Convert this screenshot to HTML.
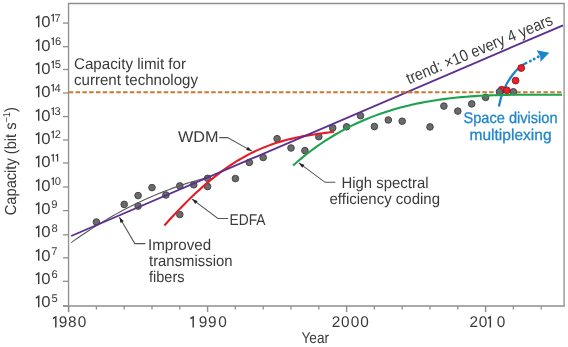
<!DOCTYPE html>
<html><head><meta charset="utf-8"><style>
html,body{margin:0;padding:0;background:#fff;width:568px;height:347px;overflow:hidden;}
svg{display:block;will-change:transform;font-family:"Liberation Sans", sans-serif;}
</style></head><body>
<svg width="568" height="347" viewBox="0 0 568 347" font-family="Liberation Sans, sans-serif" text-rendering="geometricPrecision">
<path d="M68.55 312.2 V3.5 H564.1 V306.2" fill="none" stroke="#8e8e8e" stroke-width="1.3"/>
<path d="M63 306.05 H564.7" fill="none" stroke="#8e8e8e" stroke-width="1.4"/>
<path d="M63 23.1 H68.5" stroke="#8e8e8e" stroke-width="1.3"/>
<path d="M63 46.7 H68.5" stroke="#8e8e8e" stroke-width="1.3"/>
<path d="M63 69.5 H68.5" stroke="#8e8e8e" stroke-width="1.3"/>
<path d="M63 93.0 H68.5" stroke="#8e8e8e" stroke-width="1.3"/>
<path d="M63 116.6 H68.5" stroke="#8e8e8e" stroke-width="1.3"/>
<path d="M63 140.0 H68.5" stroke="#8e8e8e" stroke-width="1.3"/>
<path d="M63 163.0 H68.5" stroke="#8e8e8e" stroke-width="1.3"/>
<path d="M63 187.0 H68.5" stroke="#8e8e8e" stroke-width="1.3"/>
<path d="M63 210.6 H68.5" stroke="#8e8e8e" stroke-width="1.3"/>
<path d="M63 234.8 H68.5" stroke="#8e8e8e" stroke-width="1.3"/>
<path d="M63 257.8 H68.5" stroke="#8e8e8e" stroke-width="1.3"/>
<path d="M63 281.3 H68.5" stroke="#8e8e8e" stroke-width="1.3"/>
<path d="M63 306.0 H68.5" stroke="#8e8e8e" stroke-width="1.3"/>
<path d="M68.6 306 V312" stroke="#8e8e8e" stroke-width="1.4"/>
<path d="M96.4 306 V309.5" stroke="#8e8e8e" stroke-width="1.3"/>
<path d="M124.2 306 V309.5" stroke="#8e8e8e" stroke-width="1.3"/>
<path d="M152.0 306 V309.5" stroke="#8e8e8e" stroke-width="1.3"/>
<path d="M179.8 306 V309.5" stroke="#8e8e8e" stroke-width="1.3"/>
<path d="M207.6 306 V312" stroke="#8e8e8e" stroke-width="1.4"/>
<path d="M235.4 306 V309.5" stroke="#8e8e8e" stroke-width="1.3"/>
<path d="M263.2 306 V309.5" stroke="#8e8e8e" stroke-width="1.3"/>
<path d="M291.0 306 V309.5" stroke="#8e8e8e" stroke-width="1.3"/>
<path d="M318.8 306 V309.5" stroke="#8e8e8e" stroke-width="1.3"/>
<path d="M346.6 306 V312" stroke="#8e8e8e" stroke-width="1.4"/>
<path d="M374.4 306 V309.5" stroke="#8e8e8e" stroke-width="1.3"/>
<path d="M402.2 306 V309.5" stroke="#8e8e8e" stroke-width="1.3"/>
<path d="M430.0 306 V309.5" stroke="#8e8e8e" stroke-width="1.3"/>
<path d="M457.8 306 V309.5" stroke="#8e8e8e" stroke-width="1.3"/>
<path d="M485.6 306 V312" stroke="#8e8e8e" stroke-width="1.4"/>
<path d="M513.4 306 V309.5" stroke="#8e8e8e" stroke-width="1.3"/>
<path d="M541.2 306 V309.5" stroke="#8e8e8e" stroke-width="1.3"/>
<path d="M35.80 18.20 L38.70 16.40 V27.30" fill="none" stroke="#3a3a3a" stroke-width="1.45" stroke-linejoin="miter"/>
<text transform="translate(45.30 27.3) scale(1.07 1)" x="-3.87" y="0" font-size="15.6" fill="#3a3a3a">0</text>
<path d="M51.40 15.80 L53.30 14.60 V21.60" fill="none" stroke="#3a3a3a" stroke-width="1.15" stroke-linejoin="miter"/>
<text x="54.60" y="21.6" font-size="11.2" fill="#3a3a3a">7</text>
<path d="M35.80 41.53 L38.70 39.73 V50.63" fill="none" stroke="#3a3a3a" stroke-width="1.45" stroke-linejoin="miter"/>
<text transform="translate(45.30 50.63) scale(1.07 1)" x="-3.87" y="0" font-size="15.6" fill="#3a3a3a">0</text>
<path d="M51.40 39.13 L53.30 37.93 V44.93" fill="none" stroke="#3a3a3a" stroke-width="1.15" stroke-linejoin="miter"/>
<text x="54.90" y="44.93" font-size="11.2" fill="#3a3a3a">6</text>
<path d="M35.80 64.87 L38.70 63.07 V73.97" fill="none" stroke="#3a3a3a" stroke-width="1.45" stroke-linejoin="miter"/>
<text transform="translate(45.30 73.97) scale(1.07 1)" x="-3.87" y="0" font-size="15.6" fill="#3a3a3a">0</text>
<path d="M51.40 62.47 L53.30 61.27 V68.27" fill="none" stroke="#3a3a3a" stroke-width="1.15" stroke-linejoin="miter"/>
<text x="54.81" y="68.27" font-size="11.2" fill="#3a3a3a">5</text>
<path d="M35.80 88.20 L38.70 86.40 V97.30" fill="none" stroke="#3a3a3a" stroke-width="1.45" stroke-linejoin="miter"/>
<text transform="translate(45.30 97.3) scale(1.07 1)" x="-3.87" y="0" font-size="15.6" fill="#3a3a3a">0</text>
<path d="M51.40 85.80 L53.30 84.60 V91.60" fill="none" stroke="#3a3a3a" stroke-width="1.15" stroke-linejoin="miter"/>
<text x="54.56" y="91.6" font-size="11.2" fill="#3a3a3a">4</text>
<path d="M35.80 111.53 L38.70 109.73 V120.63" fill="none" stroke="#3a3a3a" stroke-width="1.45" stroke-linejoin="miter"/>
<text transform="translate(45.30 120.63) scale(1.07 1)" x="-3.87" y="0" font-size="15.6" fill="#3a3a3a">0</text>
<path d="M51.40 109.13 L53.30 107.93 V114.93" fill="none" stroke="#3a3a3a" stroke-width="1.15" stroke-linejoin="miter"/>
<text x="54.43" y="114.93" font-size="11.2" fill="#3a3a3a">3</text>
<path d="M35.80 134.87 L38.70 133.07 V143.97" fill="none" stroke="#3a3a3a" stroke-width="1.45" stroke-linejoin="miter"/>
<text transform="translate(45.30 143.97) scale(1.07 1)" x="-3.87" y="0" font-size="15.6" fill="#3a3a3a">0</text>
<path d="M51.40 132.47 L53.30 131.27 V138.27" fill="none" stroke="#3a3a3a" stroke-width="1.15" stroke-linejoin="miter"/>
<text x="54.76" y="138.27" font-size="11.2" fill="#3a3a3a">2</text>
<path d="M35.80 158.20 L38.70 156.40 V167.30" fill="none" stroke="#3a3a3a" stroke-width="1.45" stroke-linejoin="miter"/>
<text transform="translate(45.30 167.3) scale(1.07 1)" x="-3.87" y="0" font-size="15.6" fill="#3a3a3a">0</text>
<path d="M51.40 155.80 L53.30 154.60 V161.60" fill="none" stroke="#3a3a3a" stroke-width="1.15" stroke-linejoin="miter"/>
<path d="M55.70 155.80 L57.60 154.60 V161.60" fill="none" stroke="#3a3a3a" stroke-width="1.15" stroke-linejoin="miter"/>
<path d="M35.80 181.53 L38.70 179.73 V190.63" fill="none" stroke="#3a3a3a" stroke-width="1.45" stroke-linejoin="miter"/>
<text transform="translate(45.30 190.63) scale(1.07 1)" x="-3.87" y="0" font-size="15.6" fill="#3a3a3a">0</text>
<path d="M51.40 179.13 L53.30 177.93 V184.93" fill="none" stroke="#3a3a3a" stroke-width="1.15" stroke-linejoin="miter"/>
<text x="54.82" y="184.93" font-size="11.2" fill="#3a3a3a">0</text>
<path d="M35.80 204.86 L38.70 203.06 V213.96" fill="none" stroke="#3a3a3a" stroke-width="1.45" stroke-linejoin="miter"/>
<text transform="translate(45.30 213.96) scale(1.07 1)" x="-3.87" y="0" font-size="15.6" fill="#3a3a3a">0</text>
<text x="51.27" y="208.26" font-size="11.2" fill="#3a3a3a">9</text>
<path d="M35.80 228.20 L38.70 226.40 V237.30" fill="none" stroke="#3a3a3a" stroke-width="1.45" stroke-linejoin="miter"/>
<text transform="translate(45.30 237.3) scale(1.07 1)" x="-3.87" y="0" font-size="15.6" fill="#3a3a3a">0</text>
<text x="51.40" y="231.6" font-size="11.2" fill="#3a3a3a">8</text>
<path d="M35.80 251.53 L38.70 249.73 V260.63" fill="none" stroke="#3a3a3a" stroke-width="1.45" stroke-linejoin="miter"/>
<text transform="translate(45.30 260.63) scale(1.07 1)" x="-3.87" y="0" font-size="15.6" fill="#3a3a3a">0</text>
<text x="51.20" y="254.93" font-size="11.2" fill="#3a3a3a">7</text>
<path d="M35.80 274.86 L38.70 273.06 V283.96" fill="none" stroke="#3a3a3a" stroke-width="1.45" stroke-linejoin="miter"/>
<text transform="translate(45.30 283.96) scale(1.07 1)" x="-3.87" y="0" font-size="15.6" fill="#3a3a3a">0</text>
<text x="51.50" y="278.26" font-size="11.2" fill="#3a3a3a">6</text>
<path d="M35.80 298.20 L38.70 296.40 V307.30" fill="none" stroke="#3a3a3a" stroke-width="1.45" stroke-linejoin="miter"/>
<text transform="translate(45.30 307.3) scale(1.07 1)" x="-3.87" y="0" font-size="15.6" fill="#3a3a3a">0</text>
<text x="51.41" y="301.6" font-size="11.2" fill="#3a3a3a">5</text>
<path d="M53.00 318.50 L55.80 316.90 V327.40" fill="none" stroke="#3a3a3a" stroke-width="1.45" stroke-linejoin="miter"/>
<text x="58.82" y="327.4" font-size="15.4" fill="#3a3a3a">9</text>
<text x="68.10" y="327.4" font-size="15.4" fill="#3a3a3a">8</text>
<text x="77.83" y="327.4" font-size="15.4" fill="#3a3a3a">0</text>
<path d="M190.40 318.50 L193.20 316.90 V327.40" fill="none" stroke="#3a3a3a" stroke-width="1.45" stroke-linejoin="miter"/>
<text x="198.82" y="327.4" font-size="15.4" fill="#3a3a3a">9</text>
<text x="208.12" y="327.4" font-size="15.4" fill="#3a3a3a">9</text>
<text x="218.23" y="327.4" font-size="15.4" fill="#3a3a3a">0</text>
<text x="331.64" y="327.4" font-size="15.4" fill="#3a3a3a">2</text>
<text x="341.03" y="327.4" font-size="15.4" fill="#3a3a3a">0</text>
<text x="350.73" y="327.4" font-size="15.4" fill="#3a3a3a">0</text>
<text x="360.23" y="327.4" font-size="15.4" fill="#3a3a3a">0</text>
<text x="469.49" y="327.4" font-size="15.4" fill="#3a3a3a">2</text>
<text x="478.63" y="327.4" font-size="15.4" fill="#3a3a3a">0</text>
<path d="M487.95 318.40 L490.35 316.90 V327.40" fill="none" stroke="#3a3a3a" stroke-width="1.45" stroke-linejoin="miter"/>
<text x="496.83" y="327.4" font-size="15.4" fill="#3a3a3a">0</text>
<text x="301.5" y="343.1" font-size="15.5" fill="#3a3a3a" textLength="27.5" lengthAdjust="spacingAndGlyphs">Year</text>
<g transform="translate(15.9 215.2) rotate(-90)"><text x="0" y="0" font-size="16" fill="#3a3a3a" textLength="108" lengthAdjust="spacingAndGlyphs">Capacity (bit s<tspan dy="-5.5" font-size="10">−1</tspan><tspan dy="5.5">)</tspan></text></g>
<path d="M68.8 92.2 H562.4" stroke="#c97a2e" stroke-width="2" stroke-dasharray="4.5 2.28"/>
<path d="M498.90 106.50 C499.38 104.62 500.53 98.92 501.80 95.20 C503.07 91.48 504.68 87.60 506.50 84.20 C508.32 80.80 510.50 77.67 512.70 74.80 C514.90 71.93 517.28 69.07 519.70 67.00 C522.12 64.93 525.95 63.17 527.20 62.40" fill="none" stroke="#1b84cb" stroke-width="2.3"/>
<circle cx="501.7" cy="89.7" r="3.4" fill="#e8202a" stroke="#9c1018" stroke-width="0.9"/>
<circle cx="96.40" cy="222.0" r="3.3" fill="#6b6b6b" stroke="#454545" stroke-width="1"/>
<circle cx="124.20" cy="204.4" r="3.3" fill="#6b6b6b" stroke="#454545" stroke-width="1"/>
<circle cx="138.10" cy="195.6" r="3.3" fill="#6b6b6b" stroke="#454545" stroke-width="1"/>
<circle cx="138.10" cy="206.1" r="3.3" fill="#6b6b6b" stroke="#454545" stroke-width="1"/>
<circle cx="152.00" cy="187.6" r="3.3" fill="#6b6b6b" stroke="#454545" stroke-width="1"/>
<circle cx="165.90" cy="195.0" r="3.3" fill="#6b6b6b" stroke="#454545" stroke-width="1"/>
<circle cx="179.80" cy="214.5" r="3.3" fill="#6b6b6b" stroke="#454545" stroke-width="1"/>
<circle cx="179.80" cy="185.9" r="3.3" fill="#6b6b6b" stroke="#454545" stroke-width="1"/>
<circle cx="193.70" cy="184.8" r="3.3" fill="#6b6b6b" stroke="#454545" stroke-width="1"/>
<circle cx="207.60" cy="178.3" r="3.3" fill="#6b6b6b" stroke="#454545" stroke-width="1"/>
<circle cx="207.60" cy="186.6" r="3.3" fill="#6b6b6b" stroke="#454545" stroke-width="1"/>
<circle cx="235.40" cy="178.6" r="3.3" fill="#6b6b6b" stroke="#454545" stroke-width="1"/>
<circle cx="249.30" cy="162.4" r="3.3" fill="#6b6b6b" stroke="#454545" stroke-width="1"/>
<circle cx="263.20" cy="157.5" r="3.3" fill="#6b6b6b" stroke="#454545" stroke-width="1"/>
<circle cx="277.10" cy="138.7" r="3.3" fill="#6b6b6b" stroke="#454545" stroke-width="1"/>
<circle cx="291.00" cy="148.0" r="3.3" fill="#6b6b6b" stroke="#454545" stroke-width="1"/>
<circle cx="304.90" cy="150.6" r="3.3" fill="#6b6b6b" stroke="#454545" stroke-width="1"/>
<circle cx="318.80" cy="136.7" r="3.3" fill="#6b6b6b" stroke="#454545" stroke-width="1"/>
<circle cx="332.70" cy="127.9" r="3.3" fill="#6b6b6b" stroke="#454545" stroke-width="1"/>
<circle cx="346.60" cy="126.8" r="3.3" fill="#6b6b6b" stroke="#454545" stroke-width="1"/>
<circle cx="360.50" cy="115.7" r="3.3" fill="#6b6b6b" stroke="#454545" stroke-width="1"/>
<circle cx="374.40" cy="126.5" r="3.3" fill="#6b6b6b" stroke="#454545" stroke-width="1"/>
<circle cx="388.30" cy="120.0" r="3.3" fill="#6b6b6b" stroke="#454545" stroke-width="1"/>
<circle cx="402.20" cy="121.2" r="3.3" fill="#6b6b6b" stroke="#454545" stroke-width="1"/>
<circle cx="430.00" cy="126.9" r="3.3" fill="#6b6b6b" stroke="#454545" stroke-width="1"/>
<circle cx="443.90" cy="106.1" r="3.3" fill="#6b6b6b" stroke="#454545" stroke-width="1"/>
<circle cx="457.80" cy="111.1" r="3.3" fill="#6b6b6b" stroke="#454545" stroke-width="1"/>
<circle cx="471.70" cy="103.9" r="3.3" fill="#6b6b6b" stroke="#454545" stroke-width="1"/>
<circle cx="485.60" cy="97.4" r="3.3" fill="#6b6b6b" stroke="#454545" stroke-width="1"/>
<circle cx="499.50" cy="91.8" r="3.3" fill="#6b6b6b" stroke="#454545" stroke-width="1"/>
<circle cx="513.40" cy="91.8" r="3.3" fill="#6b6b6b" stroke="#454545" stroke-width="1"/>
<circle cx="506.9" cy="90.3" r="3.4" fill="#e8202a" stroke="#9c1018" stroke-width="0.9"/>
<circle cx="515.6" cy="80.6" r="3.4" fill="#e8202a" stroke="#9c1018" stroke-width="0.9"/>
<circle cx="521.2" cy="68.0" r="3.4" fill="#e8202a" stroke="#9c1018" stroke-width="0.9"/>
<path d="M71.20 242.60 L74.68 240.12 L78.16 237.69 L81.65 235.30 L85.13 232.96 L88.61 230.67 L92.09 228.41 L95.57 226.21 L99.06 224.04 L102.54 221.92 L106.02 219.85 L109.50 217.81 L112.98 215.82 L116.47 213.88 L119.95 211.97 L123.43 210.11 L126.91 208.29 L130.39 206.52 L133.88 204.78 L137.36 203.09 L140.84 201.44 L144.32 199.83 L147.81 198.26 L151.29 196.73 L154.77 195.24 L158.25 193.79 L161.73 192.38 L165.22 191.01 L168.70 189.68 L172.18 188.39 L175.66 187.14 L179.14 185.93 L182.63 184.76 L186.11 183.62 L189.59 182.52 L193.07 181.46 L196.55 180.44 L200.04 179.46 L203.52 178.51 L207.00 177.60" fill="none" stroke="#5a5a5a" stroke-width="1.1"/>
<path d="M164.40 225.43 L167.28 222.23 L170.15 219.07 L173.03 215.96 L175.91 212.90 L178.78 209.88 L181.66 206.91 L184.53 203.99 L187.41 201.12 L190.29 198.31 L193.16 195.54 L196.04 192.84 L198.92 190.19 L201.79 187.60 L204.67 185.07 L207.54 182.59 L210.42 180.19 L213.30 177.84 L216.17 175.56 L219.05 173.34 L221.93 171.19 L224.80 169.11 L227.68 167.10 L230.55 165.16 L233.43 163.29 L236.31 161.48 L239.18 159.74 L242.06 158.07 L244.94 156.46 L247.81 154.91 L250.69 153.43 L253.56 152.02 L256.44 150.66 L259.32 149.37 L262.19 148.14 L265.07 146.97 L267.95 145.86 L270.82 144.81 L273.70 143.81 L276.57 142.87 L279.45 141.97 L282.33 141.13 L285.20 140.33 L288.08 139.58 L290.96 138.87 L293.83 138.19 L296.71 137.56 L299.58 136.96 L302.46 136.40 L305.34 135.87 L308.21 135.37 L311.09 134.89 L313.97 134.44 L316.84 134.01 L319.72 133.61 L322.59 133.22 L325.47 132.85 L328.35 132.49 L331.22 132.15 L334.10 131.82" fill="none" stroke="#e41d25" stroke-width="2.1"/>
<path d="M293.10 165.44 L297.66 161.48 L302.22 157.68 L306.77 154.03 L311.33 150.54 L315.89 147.20 L320.45 144.00 L325.00 140.95 L329.56 138.03 L334.12 135.25 L338.68 132.60 L343.23 130.08 L347.79 127.67 L352.35 125.39 L356.91 123.23 L361.46 121.17 L366.02 119.22 L370.58 117.38 L375.14 115.63 L379.69 113.98 L384.25 112.43 L388.81 110.96 L393.37 109.57 L397.93 108.27 L402.48 107.05 L407.04 105.90 L411.60 104.82 L416.16 103.81 L420.71 102.87 L425.27 102.00 L429.83 101.19 L434.39 100.45 L438.94 99.76 L443.50 99.13 L448.06 98.55 L452.62 98.02 L457.17 97.54 L461.73 97.11 L466.29 96.73 L470.85 96.39 L475.41 96.08 L479.96 95.82 L484.52 95.59 L489.08 95.39 L493.64 95.22 L498.19 95.08 L502.75 94.97 L507.31 94.88 L511.87 94.82 L516.42 94.77 L520.98 94.73 L525.54 94.72 L530.10 94.71 L534.65 94.71 L539.21 94.72 L543.77 94.74 L548.33 94.75 L552.88 94.77 L557.44 94.78 L562.00 94.79" fill="none" stroke="#1ca24e" stroke-width="2.1"/>
<path d="M71.2 236.0 L563 25.3" stroke="#5c2e8f" stroke-width="1.85"/>
<clipPath id="cp"><rect x="396" y="85" width="22" height="15"/></clipPath>
<path clip-path="url(#cp)" d="M68.8 92.2 H562.4" stroke="#c97a2e" stroke-width="2" stroke-dasharray="4.5 2.28"/>
<circle cx="530.3" cy="61.1" r="1.5" fill="#1b84cb"/>
<circle cx="534.1" cy="58.9" r="1.5" fill="#1b84cb"/>
<circle cx="538.2" cy="56.7" r="1.5" fill="#1b84cb"/>
<path d="M549.3 52.8 L536.6 50.3 L540.2 56.2 L540.5 61.8 Z" fill="#1b84cb"/>
<path d="M145.3 243.6 H134.8 L119.4 217.2" fill="none" stroke="#555555" stroke-width="1.05"/>
<path d="M119.40 217.20 L123.81 220.99 L120.53 222.91 Z" fill="#222"/>
<path d="M228.2 218.5 H217.9 L192.1 199.1" fill="none" stroke="#555555" stroke-width="1.05"/>
<path d="M192.10 199.10 L197.64 200.89 L195.35 203.92 Z" fill="#222"/>
<path d="M219.2 137.6 H227.6 L251.8 151.1" fill="none" stroke="#555555" stroke-width="1.05"/>
<path d="M251.80 151.10 L246.07 150.08 L247.92 146.76 Z" fill="#222"/>
<path d="M335.4 182.3 H325.1 L298.9 162.9" fill="none" stroke="#555555" stroke-width="1.05"/>
<path d="M298.90 162.90 L304.45 164.65 L302.19 167.70 Z" fill="#222"/>
<text x="74.0" y="69.2" font-size="15.5" fill="#3a3a3a" textLength="112.01" lengthAdjust="spacingAndGlyphs">Capacity limit for</text>
<text x="74.0" y="85.3" font-size="15.5" fill="#3a3a3a" textLength="124.01" lengthAdjust="spacingAndGlyphs">current technology</text>
<text x="178.0" y="142.3" font-size="15.5" fill="#3a3a3a" textLength="40.55" lengthAdjust="spacingAndGlyphs">WDM</text>
<text x="229.5" y="224.7" font-size="15.5" fill="#3a3a3a" textLength="36.01" lengthAdjust="spacingAndGlyphs">EDFA</text>
<text x="148.0" y="249.7" font-size="15.5" fill="#3a3a3a" textLength="63.07" lengthAdjust="spacingAndGlyphs">Improved</text>
<text x="149.0" y="265.9" font-size="15.5" fill="#3a3a3a" textLength="83.52" lengthAdjust="spacingAndGlyphs">transmission</text>
<text x="149.0" y="282.1" font-size="15.5" fill="#3a3a3a" textLength="35.51" lengthAdjust="spacingAndGlyphs">fibers</text>
<text x="341.5" y="187.6" font-size="15.5" fill="#3a3a3a" textLength="87.03" lengthAdjust="spacingAndGlyphs">High spectral</text>
<text x="329.5" y="203.8" font-size="15.5" fill="#3a3a3a" textLength="110.51" lengthAdjust="spacingAndGlyphs">efficiency coding</text>
<text x="463.5" y="123.4" font-size="15.5" fill="#1f86c9" stroke="#1f86c9" stroke-width="0.3" textLength="94.02" lengthAdjust="spacingAndGlyphs">Space division</text>
<text x="469.5" y="139.6" font-size="15.5" fill="#1f86c9" stroke="#1f86c9" stroke-width="0.3" textLength="82.04" lengthAdjust="spacingAndGlyphs">multiplexing</text>
<g transform="translate(408.9 84.5) rotate(-22.6)"><text x="0" y="0" font-size="16.5" fill="#3a3a3a" textLength="157.2" lengthAdjust="spacingAndGlyphs">trend: ×10 every 4 years</text></g>
</svg>
</body></html>
